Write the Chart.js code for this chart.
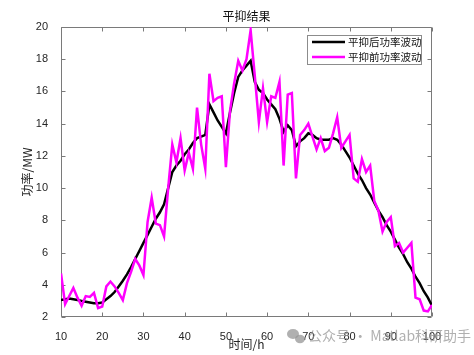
<!DOCTYPE html>
<html><head><meta charset="utf-8">
<script src="https://cdn.jsdelivr.net/npm/chart.js@4/dist/chart.umd.min.js"></script>
<style>html,body{margin:0;padding:0;background:#fff;}#wrap{width:474px;height:355px;}</style>
</head><body><div id="wrap"><canvas id="c" width="474" height="355"></canvas></div>
<script>
const hours = [10,11,12,13,14,15,16,17,18,19,20,21,22,23,24,25,26,27,28,29,30,31,32,33,34,35,36,37,38,39,40,41,42,43,44,45,46,47,48,49,50,51,52,53,54,55,56,57,58,59,60,61,62,63,64,65,66,67,68,69,70,71,72,73,74,75,76,77,78,79,80,81,82,83,84,85,86,87,88,89,90,91,92,93,94,95,96,97,98,99,100];
const smoothed = [3.05,3.1,3.15,3.1,3.05,3.0,2.95,2.9,2.85,2.85,2.9,3.1,3.3,3.55,3.9,4.25,4.65,5.1,5.6,6.1,6.6,7.1,7.6,8.1,8.5,9.0,10.0,11.0,11.4,11.7,12.1,12.4,12.8,13.1,13.2,13.3,15.2,14.7,14.2,13.8,13.4,14.7,15.9,16.9,17.3,17.6,17.9,16.6,16.1,15.9,15.5,15.2,14.9,14.3,13.5,13.9,13.6,12.6,12.9,13.1,13.4,13.3,13.1,13.0,13.0,13.0,13.1,13.0,12.7,12.3,11.9,11.4,10.9,10.5,10.0,9.6,9.1,8.6,8.2,7.7,7.3,6.8,6.3,5.9,5.4,5.0,4.5,4.1,3.6,3.2,2.7];
const raw = [4.7,2.8,3.3,3.8,3.2,2.7,3.3,3.25,3.5,2.55,2.65,3.9,4.2,3.9,3.5,3.05,4.1,4.8,5.6,5.2,4.6,7.9,9.4,7.8,7.7,7.0,10.0,12.7,11.6,13.1,11.1,12.2,11.2,15.0,12.7,11.2,17.1,15.4,15.6,15.7,11.3,14.8,16.5,17.9,17.3,18.0,19.8,17.0,14.1,16.2,14.1,15.7,15.6,16.6,11.4,15.8,15.9,10.6,13.3,13.6,14.0,13.2,12.4,13.1,12.3,12.5,13.4,14.4,12.5,12.9,13.3,10.6,10.4,11.8,11.0,11.4,9.2,8.6,7.3,7.9,8.2,6.4,6.6,6.0,6.3,6.6,3.2,3.1,2.4,2.35,2.75];
const seriesLabels = ['平抑后功率波动', '平抑前功率波动'];
const xTicks = [10,20,30,40,50,60,70,80,90,100];
const yTicks = [2,4,6,8,10,12,14,16,18,20];
const titleText = '平抑结果';
const xTitle = '时间/h';
const yTitle = '功率/MW';
const watermark = '公众号 · Matlab科研助手';

const colors = ['#000000', '#ff00ff'];
const cjk = '"Noto Sans CJK SC", sans-serif';
const latin = '"Liberation Sans", Arial, sans-serif';
const axisGray = '#7a7a7a';

const frame = {
  id: 'frame',
  beforeDatasetsDraw(chart) {
    const {ctx, chartArea: a, scales} = chart;
    ctx.save();
    ctx.strokeStyle = axisGray;
    ctx.lineWidth = 1;
    ctx.beginPath();
    const L = Math.round(a.left) + 0.5, R = Math.round(a.right) - 0.5, T = Math.round(a.top) + 0.5, B = Math.round(a.bottom) - 0.5;
    ctx.rect(L, T, R - L, B - T);
    const tl = 4;
    xTicks.forEach(v => {
      const px = Math.round(scales.x.getPixelForValue(v)) + 0.5;
      ctx.moveTo(px, B); ctx.lineTo(px, B - tl);
      ctx.moveTo(px, T); ctx.lineTo(px, T + tl);
    });
    yTicks.forEach(v => {
      const py = Math.round(scales.y.getPixelForValue(v)) + 0.5;
      ctx.moveTo(L, py); ctx.lineTo(L + tl, py);
      ctx.moveTo(R, py); ctx.lineTo(R - tl, py);
    });
    ctx.stroke();
    ctx.restore();
  },
  afterDraw(chart) {
    const {ctx, chartArea: a} = chart;
    ctx.save();
    // title
    ctx.fillStyle = '#111';
    ctx.font = '12px ' + cjk;
    ctx.textAlign = 'center';
    ctx.textBaseline = 'middle';
    ctx.fillText(titleText, (a.left + a.right) / 2, 16);
    // legend
    const bx = 307.5, by = 35.5, bw = 114, bh = 29;
    ctx.fillStyle = '#fff';
    ctx.fillRect(bx, by, bw, bh);
    ctx.strokeStyle = '#8c8c8c';
    ctx.lineWidth = 1;
    ctx.strokeRect(bx, by, bw, bh);
    const rows = [42, 57];
    chart.data.datasets.forEach((ds, i) => {
      ctx.strokeStyle = ds.borderColor;
      ctx.lineWidth = 2.5;
      ctx.beginPath();
      ctx.moveTo(312, rows[i]); ctx.lineTo(345, rows[i]);
      ctx.stroke();
      ctx.fillStyle = '#111';
      ctx.font = '10.5px ' + cjk;
      ctx.textAlign = 'left';
      ctx.textBaseline = 'middle';
      ctx.fillText(ds.label, 348, rows[i]);
    });
    // watermark
    ctx.fillStyle = 'rgba(150,150,150,0.75)';
    ctx.beginPath(); ctx.ellipse(293, 334, 6, 5, 0, 0, Math.PI * 2); ctx.fill();
    ctx.beginPath(); ctx.ellipse(300, 339, 5, 4.2, 0, 0, Math.PI * 2); ctx.fill();
    ctx.font = '14px ' + cjk;
    ctx.textAlign = 'left';
    ctx.textBaseline = 'middle';
    ctx.fillText(watermark, 308, 336);
    ctx.restore();
  }
};

new Chart(document.getElementById('c'), {
  type: 'line',
  data: {
    datasets: [
      { label: seriesLabels[0], data: hours.map((h, i) => ({x: h, y: smoothed[i]})), borderColor: colors[0], borderWidth: 2.5, pointRadius: 0, tension: 0, fill: false, order: 1 },
      { label: seriesLabels[1], data: hours.map((h, i) => ({x: h, y: raw[i]})), borderColor: colors[1], borderWidth: 2.5, pointRadius: 0, tension: 0, fill: false, order: 0 }
    ]
  },
  options: {
    responsive: false,
    animation: false,
    devicePixelRatio: 1,
    layout: { padding: { left: 0, right: 42, top: 27, bottom: 0 } },
    plugins: { legend: { display: false }, title: { display: false }, tooltip: { enabled: false } },
    scales: {
      x: {
        type: 'linear', min: 10, max: 100,
        afterBuildTicks: s => { s.ticks = xTicks.map(v => ({value: v})); },
        afterFit: s => { s.height = 38; },
        grid: { display: false }, border: { display: false },
        ticks: { font: { family: latin, size: 11 }, color: '#262626', padding: 5, maxRotation: 0, autoSkip: false },
        title: { display: true, text: xTitle, font: { family: cjk, size: 12 }, color: '#262626', padding: { top: 0, bottom: 3 } }
      },
      y: {
        type: 'linear', min: 2, max: 20,
        afterBuildTicks: s => { s.ticks = yTicks.map(v => ({value: v})); },
        afterFit: s => { s.width = 61; },
        grid: { display: false }, border: { display: false },
        ticks: { font: { family: latin, size: 11 }, color: '#262626', padding: 5, autoSkip: false },
        title: { display: true, text: yTitle, font: { family: cjk, size: 12 }, color: '#262626', padding: { top: 20, bottom: 0 } }
      }
    }
  },
  plugins: [frame]
});
</script>
</body></html>
